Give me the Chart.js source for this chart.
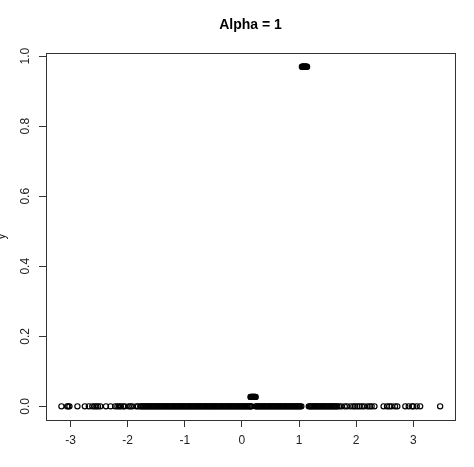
<!DOCTYPE html>
<html>
<head>
<meta charset="UTF-8">
<script src="https://cdn.jsdelivr.net/npm/chart.js"></script>
<style>
  body { margin: 0; background: #fff; }
</style>
</head>
<body>
<canvas id="c" width="474" height="467"></canvas>
<script>
// x values of points sitting at y = 0
const zeroX = [
  -3.16, -3.06, -3.04, -3.02, -2.88, -2.75, -2.68, -2.62, -2.58, -2.55, -2.52, -2.48, -2.38, -2.3,
  -2.22, -2.18, -2.15, -2.12, -2.08, -2.05, -1.98, -1.95, -1.92, -1.85, -1.82, -1.78, -1.74, -1.7,
  -1.66, -1.62, -1.58, -1.54, -1.5, -1.46, -1.42, -1.38, -1.34, -1.3, -1.26, -1.22, -1.18, -1.14,
  -1.1, -1.06, -1.02, -0.98, -0.94, -0.9, -0.86, -0.82, -0.78, -0.74, -0.7, -0.66, -0.62, -0.58,
  -0.54, -0.5, -0.46, -0.42, -0.38, -0.34, -0.3, -0.26, -0.22, -0.18, -0.14, -0.1, -0.06, -0.02,
  0.02, 0.06, 0.1, 0.14, 0.17, 0.24, 0.28, 0.32, 0.36, 0.4, 0.44, 0.48, 0.52, 0.56, 0.6, 0.64,
  0.68, 0.72, 0.76, 0.8, 0.84, 0.88, 0.92, 0.96, 1.0, 1.04, 1.17, 1.21, 1.25, 1.29, 1.33, 1.37,
  1.41, 1.45, 1.49, 1.53, 1.57, 1.61, 1.65, 1.7, 1.74, 1.8, 1.84, 1.9, 1.95, 1.98, 2.02, 2.06,
  2.1, 2.14, 2.2, 2.24, 2.27, 2.32, 2.48, 2.54, 2.58, 2.62, 2.68, 2.72, 2.86, 2.92, 2.98, 3.0,
  3.06, 3.12, 3.47
];
// extra points in the crowded middle stretch, also at y = 0
const denseX = [
  -1.76, -1.72, -1.68, -1.64, -1.6, -1.56, -1.52, -1.48, -1.44, -1.4, -1.36, -1.32, -1.28, -1.24,
  -1.2, -1.16, -1.12, -1.08, -1.04, -1.0, -0.96, -0.92, -0.88, -0.84, -0.8, -0.76, -0.72, -0.68,
  -0.64, -0.6, -0.56, -0.52, -0.48, -0.44, -0.4, -0.36, -0.32, -0.28, -0.24, -0.2, -0.16, -0.12,
  -0.08, -0.04, 0.0, 0.04, 0.08, 0.12, 0.15, 0.26, 0.3, 0.34, 0.38, 0.42, 0.46, 0.5, 0.54, 0.58,
  0.62, 0.66, 0.7, 0.74, 0.78, 0.82, 0.86, 0.9, 0.94, 0.98, 1.02, 1.19, 1.23, 1.27, 1.31, 1.35,
  1.39, 1.43, 1.47, 1.51, 1.55, 1.59, 1.63, 1.67
];
const lowX = [0.15, 0.16, 0.17, 0.18, 0.19, 0.2, 0.21, 0.22, 0.23, 0.24];
const lowY = 0.027;
const highX = [1.05, 1.06, 1.07, 1.08, 1.09, 1.1, 1.11, 1.12, 1.13, 1.14];
const highY = 0.97;
const xTicks = [-3, -2, -1, 0, 1, 2, 3];
const yTicks = [0, 0.2, 0.4, 0.6, 0.8, 1.0];

const pts = zeroX.concat(denseX).map(x => ({ x: x, y: 0 }))
  .concat(lowX.map(x => ({ x: x, y: lowY })))
  .concat(highX.map(x => ({ x: x, y: highY })));

const rPlot = {
  id: 'rPlot',
  afterDraw(chart) {
    const ctx = chart.ctx, a = chart.chartArea, ys = chart.scales.y;
    ctx.save();
    ctx.strokeStyle = '#333';
    ctx.lineWidth = 1;
    ctx.strokeRect(a.left + 0.5, a.top + 0.5, a.right - a.left, a.bottom - a.top);
    ctx.fillStyle = '#222';
    ctx.font = '12px "Liberation Sans", Arial, sans-serif';
    ctx.textAlign = 'center';
    ctx.textBaseline = 'bottom';
    yTicks.forEach(v => {
      const py = ys.getPixelForValue(v);
      ctx.save();
      ctx.translate(32, py);
      ctx.rotate(-Math.PI / 2);
      ctx.fillText(v.toFixed(1), 0, 0);
      ctx.restore();
    });
    ctx.save();
    ctx.translate(8, (a.top + a.bottom) / 2);
    ctx.rotate(-Math.PI / 2);
    ctx.fillText('y', 0, 0);
    ctx.restore();
    ctx.font = 'bold 14px "Liberation Sans", Arial, sans-serif';
    ctx.textBaseline = 'middle';
    ctx.fillStyle = '#000';
    ctx.fillText('Alpha = 1', (a.left + a.right) / 2, 25);
    ctx.restore();
  }
};

new Chart(document.getElementById('c'), {
  type: 'scatter',
  data: {
    datasets: [{
      data: pts,
      pointStyle: 'circle',
      pointRadius: 2.6,
      pointBorderWidth: 1.2,
      borderColor: '#000',
      backgroundColor: 'rgba(0,0,0,0)'
    }]
  },
  options: {
    responsive: false,
    animation: false,
    layout: { padding: { top: 53, right: 19 } },
    plugins: { legend: { display: false }, tooltip: { enabled: false } },
    scales: {
      x: {
        type: 'linear', min: -3.43, max: 3.73,
        afterFit(s) { s.height = 47; },
        afterBuildTicks(s) { s.ticks = xTicks.map(v => ({ value: v })); },
        grid: { drawOnChartArea: false, tickLength: 7, color: '#333' },
        border: { display: false },
        ticks: {
          color: '#222', padding: 6,
          font: { size: 12, family: '"Liberation Sans", Arial, sans-serif' },
          callback: v => String(v)
        }
      },
      y: {
        type: 'linear', min: -0.039, max: 1.009,
        afterFit(s) { s.width = 46; },
        afterBuildTicks(s) { s.ticks = yTicks.map(v => ({ value: v })); },
        grid: { drawOnChartArea: false, tickLength: 7, color: '#333' },
        border: { display: false },
        ticks: { callback: () => '', padding: 0 }
      }
    }
  },
  plugins: [rPlot]
});
</script>
</body>
</html>
